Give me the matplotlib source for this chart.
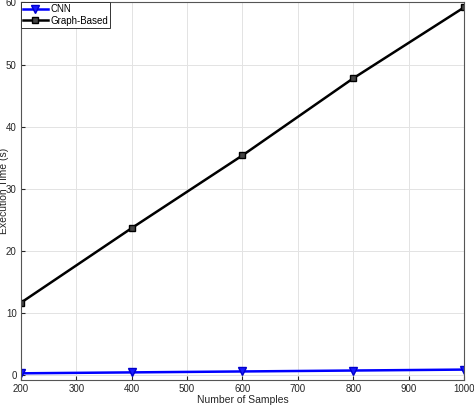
import matplotlib.pyplot as plt

plt.rcParams['font.family'] = ['Liberation Sans', 'DejaVu Sans']

samples = [200, 400, 600, 800, 1000]
cnn_time = [0.35, 0.5, 0.65, 0.8, 0.95]
graph_time = [11.7, 23.7, 35.4, 47.8, 59.2]

fig = plt.figure(figsize=(4.74, 4.08), dpi=100)
ax = fig.add_axes([0.044, 0.069, 0.935, 0.925])

ax.plot(samples, cnn_time, color='#0000ff', lw=1.8, marker='v', ms=6,
        mfc='#1a1aff', mec='#0000cc', label='CNN')
ax.plot(samples, graph_time, color='black', lw=1.8, marker='s', ms=4.5,
        mfc='#444444', mec='black', label='Graph-Based')

ax.set_xlim(200, 1000)
ax.set_ylim(-0.7, 60)
ax.set_xticks(range(200, 1001, 100))
ax.set_yticks(range(0, 61, 10))
ax.grid(True, color='#e3e3e3', lw=0.7)
ax.set_axisbelow(True)
ax.tick_params(direction='in', length=3, labelsize=7, colors='#262626', pad=3)
for s in ax.spines.values():
    s.set_color('#555555')
    s.set_linewidth(0.8)

ax.set_xlabel('Number of Samples', fontsize=7.5, color='#262626', labelpad=1)
ax.set_ylabel('Execution Time (s)', fontsize=7.5, color='#262626', labelpad=0)
ax.yaxis.set_label_coords(-0.027, 0.5)

leg = ax.legend(loc='upper left', fontsize=7, fancybox=False, framealpha=1,
                edgecolor='#333333', borderpad=0.2, labelspacing=0.15,
                handlelength=2.6, handletextpad=0.2, borderaxespad=0)
leg.get_frame().set_linewidth(0.7)

fig.savefig('out.png', dpi=100)
